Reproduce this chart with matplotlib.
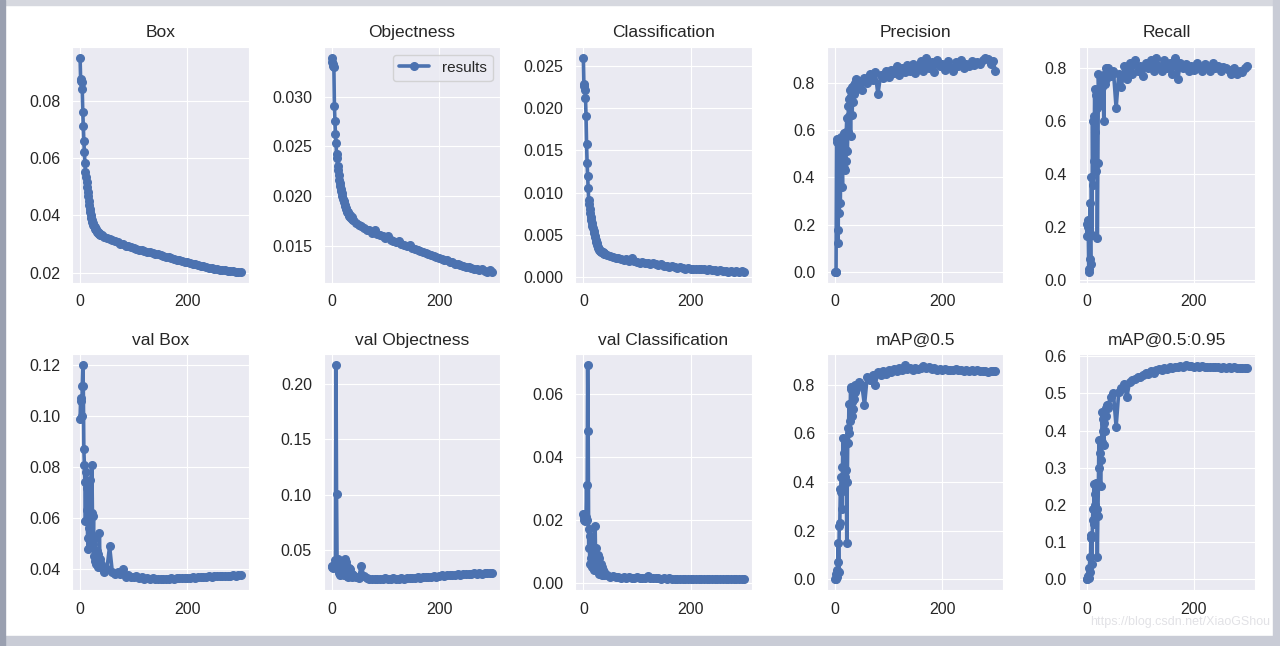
import matplotlib
matplotlib.use('Agg')
import matplotlib.pyplot as plt
import seaborn as sns
from matplotlib.patches import Rectangle

# epochs: every epoch at the start, then every 5th
epochs = list(range(40)) + list(range(40, 300, 5)) + [299]

box = [0.0950, 0.0875, 0.0870, 0.0865, 0.0840, 0.0762, 0.0712, 0.0660, 0.0622, 0.0582,
       0.0550, 0.0535, 0.0518, 0.0500, 0.0483, 0.0466, 0.0450, 0.0436, 0.0423, 0.0411,
       0.0401, 0.0392, 0.0385, 0.0378, 0.0372, 0.0367, 0.0362, 0.0358, 0.0354, 0.0351,
       0.0348, 0.0345, 0.0343, 0.0341, 0.0339, 0.0337, 0.0335, 0.0334, 0.0332, 0.0331,
       0.0330, 0.0325, 0.0322, 0.0316, 0.0313, 0.0309, 0.0306, 0.0301, 0.0299, 0.0295,
       0.0292, 0.0290, 0.0286, 0.0284, 0.0281, 0.0279, 0.0276, 0.0274, 0.0271, 0.0269,
       0.0266, 0.0264, 0.0261, 0.0259, 0.0256, 0.0254, 0.0251, 0.0249, 0.0246, 0.0243,
       0.0241, 0.0238, 0.0236, 0.0233, 0.0231, 0.0229, 0.0226, 0.0224, 0.0222, 0.0220,
       0.0218, 0.0216, 0.0214, 0.0212, 0.0211, 0.0209, 0.0208, 0.0207, 0.0206, 0.0205,
       0.0204, 0.0203, 0.0203]

objectness = [0.0339, 0.0335, 0.0331, 0.0333, 0.0330, 0.0291, 0.0275, 0.0262, 0.0253, 0.0242,
              0.0238, 0.0230, 0.0226, 0.0221, 0.0216, 0.0213, 0.0210, 0.0207, 0.0205, 0.0203,
              0.0200, 0.0197, 0.0195, 0.0194, 0.0191, 0.0190, 0.0188, 0.0187, 0.0185, 0.0184,
              0.0183, 0.0184, 0.0181, 0.0180, 0.0181, 0.0179, 0.0178, 0.0179, 0.0177, 0.0176,
              0.0176, 0.0173, 0.0171, 0.0170, 0.0168, 0.0166, 0.0166, 0.0163, 0.0166, 0.0162,
              0.0161, 0.0160, 0.0158, 0.0160, 0.0156, 0.0155, 0.0154, 0.0155, 0.0152, 0.0151,
              0.0150, 0.0151, 0.0148, 0.0147, 0.0146, 0.0145, 0.0144, 0.0143, 0.0142, 0.0141,
              0.0140, 0.0139, 0.0138, 0.0137, 0.0136, 0.0136, 0.0134, 0.0134, 0.0132, 0.0132,
              0.0131, 0.0130, 0.0129, 0.0129, 0.0128, 0.0127, 0.0127, 0.0126, 0.0127, 0.0125,
              0.0124, 0.0126, 0.0124]

classification = [0.0260, 0.0229, 0.0226, 0.0222, 0.0212, 0.0191, 0.0158, 0.0135, 0.0120, 0.0105,
                  0.0091, 0.0086, 0.0080, 0.0076, 0.0071, 0.0067, 0.0064, 0.0061, 0.0058, 0.0055,
                  0.0052, 0.0049, 0.0047, 0.0044, 0.0042, 0.0040, 0.0038, 0.0036, 0.0034, 0.0033,
                  0.0032, 0.0031, 0.0030, 0.0031, 0.0029, 0.0030, 0.0028, 0.0029, 0.0027, 0.0028,
                  0.0027, 0.0026, 0.0025, 0.0024, 0.0023, 0.0022, 0.0021, 0.0020, 0.0021, 0.0019,
                  0.0022, 0.0019, 0.0018, 0.0017, 0.0018, 0.0016, 0.0017, 0.0015, 0.0016, 0.0015,
                  0.0014, 0.0015, 0.0013, 0.0013, 0.0012, 0.0013, 0.0012, 0.0011, 0.0012, 0.0011,
                  0.0010, 0.0011, 0.0010, 0.0010, 0.0009, 0.0010, 0.0009, 0.0009, 0.0008, 0.0009,
                  0.0008, 0.0008, 0.0007, 0.0008, 0.0007, 0.0007, 0.0006, 0.0007, 0.0006, 0.0007,
                  0.0006, 0.0007, 0.0006]

precision = [0.000, 0.000, 0.000, 0.562, 0.548, 0.120, 0.178, 0.410, 0.250, 0.365,
             0.290, 0.572, 0.430, 0.480, 0.360, 0.560, 0.440, 0.585, 0.430, 0.520,
             0.470, 0.590, 0.650, 0.510, 0.590, 0.700, 0.730, 0.660, 0.770, 0.575,
             0.745, 0.780, 0.665, 0.760, 0.720, 0.790, 0.750, 0.800, 0.770, 0.815,
             0.790, 0.805, 0.770, 0.820, 0.800, 0.835, 0.810, 0.845, 0.750, 0.830,
             0.820, 0.850, 0.825, 0.855, 0.840, 0.870, 0.830, 0.860, 0.845, 0.875,
             0.850, 0.880, 0.840, 0.870, 0.890, 0.850, 0.905, 0.860, 0.885, 0.845,
             0.895, 0.870, 0.880, 0.855, 0.890, 0.865, 0.850, 0.885, 0.870, 0.895,
             0.860, 0.880, 0.870, 0.890, 0.875, 0.885, 0.880, 0.895, 0.905, 0.900,
             0.880, 0.890, 0.850]

recall = [0.210, 0.165, 0.225, 0.200, 0.040, 0.030, 0.290, 0.080, 0.060, 0.390,
          0.170, 0.600, 0.360, 0.620, 0.450, 0.720, 0.560, 0.700, 0.410, 0.650,
          0.160, 0.440, 0.780, 0.700, 0.720, 0.660, 0.740, 0.700, 0.760, 0.730,
          0.740, 0.750, 0.600, 0.770, 0.740, 0.780, 0.760, 0.800, 0.770, 0.790,
          0.800, 0.770, 0.790, 0.650, 0.780, 0.730, 0.810, 0.760, 0.820, 0.780,
          0.830, 0.790, 0.810, 0.770, 0.820, 0.800, 0.830, 0.790, 0.840, 0.810,
          0.790, 0.830, 0.800, 0.820, 0.780, 0.840, 0.760, 0.820, 0.800, 0.815,
          0.790, 0.810, 0.795, 0.820, 0.800, 0.790, 0.815, 0.800, 0.790, 0.820,
          0.800, 0.810, 0.790, 0.805, 0.800, 0.795, 0.780, 0.800, 0.780, 0.790,
          0.785, 0.800, 0.810]

val_box = [0.099, 0.107, 0.106, 0.100, 0.112, 0.120, 0.112, 0.087, 0.081, 0.074,
           0.059, 0.078, 0.063, 0.072, 0.052, 0.048, 0.068, 0.056, 0.075, 0.058,
           0.052, 0.062, 0.081, 0.062, 0.050, 0.061, 0.045, 0.052, 0.043, 0.047,
           0.042, 0.047, 0.044, 0.041, 0.046, 0.042, 0.054, 0.044, 0.041, 0.042,
           0.041, 0.039, 0.040, 0.049, 0.039, 0.038, 0.039, 0.038, 0.040, 0.037,
           0.0375, 0.0370, 0.0368, 0.0372, 0.0366, 0.0368, 0.0362, 0.0365, 0.0360, 0.0364,
           0.0362, 0.0360, 0.0363, 0.0361, 0.0363, 0.0362, 0.0364, 0.0363, 0.0365, 0.0364,
           0.0366, 0.0365, 0.0367, 0.0366, 0.0368, 0.0367, 0.0369, 0.0368, 0.0370, 0.0369,
           0.0371, 0.0370, 0.0372, 0.0371, 0.0373, 0.0372, 0.0373, 0.0374, 0.0373, 0.0375,
           0.0374, 0.0376, 0.0375]

val_objectness = [0.036, 0.035, 0.034, 0.036, 0.037, 0.035, 0.038, 0.041, 0.217, 0.101,
                  0.040, 0.033, 0.042, 0.030, 0.035, 0.028, 0.037, 0.031, 0.029, 0.034,
                  0.030, 0.036, 0.028, 0.031, 0.042, 0.033, 0.040, 0.029, 0.035, 0.027,
                  0.031, 0.026, 0.030, 0.034, 0.028, 0.033, 0.027, 0.029, 0.026, 0.028,
                  0.027, 0.026, 0.025, 0.036, 0.027, 0.025, 0.024, 0.0245, 0.024, 0.0245,
                  0.024, 0.0245, 0.025, 0.024, 0.0245, 0.025, 0.0245, 0.024, 0.025, 0.0245,
                  0.025, 0.0255, 0.025, 0.0255, 0.026, 0.0255, 0.026, 0.0265, 0.026, 0.0265,
                  0.027, 0.0265, 0.027, 0.0275, 0.027, 0.0275, 0.028, 0.0275, 0.028, 0.0285,
                  0.028, 0.0285, 0.029, 0.0285, 0.029, 0.0295, 0.029, 0.0295, 0.029, 0.0295,
                  0.030, 0.0295, 0.030]

val_classification = [0.022, 0.021, 0.020, 0.022, 0.0195, 0.021, 0.031, 0.020, 0.069, 0.048,
                      0.011, 0.017, 0.006, 0.015, 0.008, 0.012, 0.005, 0.014, 0.007, 0.010,
                      0.004, 0.009, 0.018, 0.006, 0.011, 0.004, 0.008, 0.005, 0.009, 0.003,
                      0.008, 0.004, 0.006, 0.003, 0.005, 0.0025, 0.004, 0.003, 0.0035, 0.0025,
                      0.0030, 0.0025, 0.0020, 0.0022, 0.0018, 0.0019, 0.0017, 0.0018, 0.0016, 0.0018,
                      0.0017, 0.0016, 0.0018, 0.0016, 0.0017, 0.0015, 0.0022, 0.0016, 0.0015, 0.0016,
                      0.0015, 0.0014, 0.0015, 0.0014, 0.0015, 0.0013, 0.0014, 0.0013, 0.0014, 0.0012,
                      0.0013, 0.0012, 0.0013, 0.0012, 0.0013, 0.0012, 0.0012, 0.0013, 0.0012, 0.0013,
                      0.0012, 0.0013, 0.0012, 0.0013, 0.0013, 0.0012, 0.0013, 0.0013, 0.0014, 0.0013,
                      0.0014, 0.0013, 0.0014]

map50 = [0.000, 0.002, 0.020, 0.040, 0.010, 0.070, 0.150, 0.030, 0.220, 0.230,
         0.370, 0.360, 0.420, 0.290, 0.460, 0.580, 0.380, 0.520, 0.550, 0.420,
         0.560, 0.450, 0.150, 0.400, 0.620, 0.560, 0.720, 0.600, 0.650, 0.780,
         0.790, 0.670, 0.730, 0.760, 0.700, 0.780, 0.740, 0.800, 0.770, 0.790,
         0.780, 0.810, 0.800, 0.715, 0.830, 0.820, 0.840, 0.800, 0.850, 0.840,
         0.855, 0.845, 0.860, 0.850, 0.865, 0.855, 0.870, 0.860, 0.880, 0.865,
         0.870, 0.860, 0.870, 0.865, 0.870, 0.875, 0.868, 0.872, 0.865, 0.868,
         0.862, 0.866, 0.860, 0.864, 0.858, 0.862, 0.860, 0.865, 0.858, 0.862,
         0.857, 0.860, 0.856, 0.859, 0.855, 0.858, 0.854, 0.857, 0.855, 0.853,
         0.856, 0.854, 0.855]

map50_95 = [0.000, 0.001, 0.005, 0.010, 0.003, 0.030, 0.060, 0.020, 0.110, 0.120,
            0.040, 0.160, 0.190, 0.150, 0.255, 0.200, 0.230, 0.180, 0.260, 0.190,
            0.060, 0.170, 0.260, 0.375, 0.300, 0.340, 0.250, 0.320, 0.370, 0.450,
            0.430, 0.400, 0.360, 0.420, 0.440, 0.400, 0.460, 0.440, 0.470, 0.460,
            0.470, 0.490, 0.500, 0.410, 0.505, 0.515, 0.525, 0.490, 0.530, 0.535,
            0.540, 0.545, 0.545, 0.550, 0.555, 0.553, 0.560, 0.555, 0.562, 0.565,
            0.563, 0.568, 0.565, 0.570, 0.568, 0.572, 0.570, 0.574, 0.572, 0.576,
            0.574, 0.575, 0.572, 0.574, 0.571, 0.573, 0.570, 0.572, 0.570, 0.572,
            0.570, 0.571, 0.569, 0.571, 0.569, 0.570, 0.568, 0.570, 0.568, 0.569,
            0.568, 0.569, 0.567]

titles = ['Box', 'Objectness', 'Classification', 'Precision', 'Recall',
          'val Box', 'val Objectness', 'val Classification', 'mAP@0.5', 'mAP@0.5:0.95']
series = [box, objectness, classification, precision, recall,
          val_box, val_objectness, val_classification, map50, map50_95]

sns.set_style('darkgrid')
plt.rcParams['font.family'] = ['Liberation Sans', 'DejaVu Sans']

fig, axs = plt.subplots(2, 5, figsize=(12.8, 6.46), dpi=100)
fig.patch.set_facecolor('white')
plt.subplots_adjust(left=0.0563, right=0.9805, bottom=0.0867, top=0.9272,
                    wspace=0.426, hspace=0.305)

for i, ax in enumerate(axs.ravel()):
    ax.plot(epochs, series[i], marker='.', color='#4C72B0', label='results',
            linewidth=2.6, markersize=11)
    ax.set_title(titles[i], fontsize=12.5, color='#262626', pad=7)
    ax.set_xticks([0, 200])
    ax.tick_params(labelsize=11.5, colors='#262626', pad=5)

axs[0, 1].legend(loc='upper right', fontsize=11)

# screenshot frame around the figure
fig.patches.append(Rectangle((0, 0), 1, 0.0155, transform=fig.transFigure,
                             color='#c9ccd6', zorder=0))
fig.patches.append(Rectangle((0, 0.993), 1, 0.007, transform=fig.transFigure,
                             color='#d6d8df', zorder=0))
fig.patches.append(Rectangle((0, 0), 0.004, 1, transform=fig.transFigure,
                             color='#9aa0b0', zorder=0))
fig.patches.append(Rectangle((0.9945, 0), 0.0055, 1, transform=fig.transFigure,
                             color='#c9ccd6', zorder=0))

fig.text(0.992, 0.028, 'https://blog.csdn.net/XiaoGShou', ha='right', va='bottom',
         fontsize=9, color='#e2e2e6')

plt.savefig('out.png', dpi=100, facecolor='white')
